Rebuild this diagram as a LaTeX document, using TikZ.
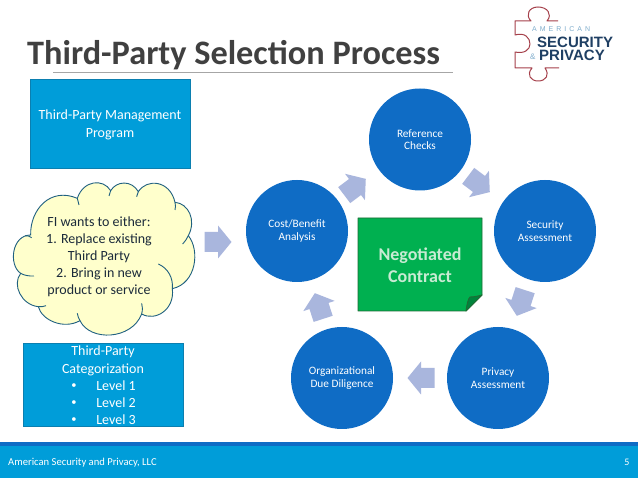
\documentclass[tikz,border=0pt]{standalone}
\usepackage{fontspec}
\setmainfont{Carlito}
\newfontfamily\logofont{Liberation Sans}
\definecolor{circ}{HTML}{0F6CC5}
\definecolor{sky}{HTML}{009DD9}
\definecolor{boxedge}{HTML}{0B7FB0}
\definecolor{arrowc}{HTML}{A9B6DD}
\definecolor{titlec}{HTML}{404040}
\definecolor{cloudfill}{HTML}{FFFFCC}
\definecolor{cloudedge}{HTML}{1F6080}
\definecolor{cloudtext}{HTML}{1B2A3A}
\definecolor{notefill}{HTML}{00B050}
\definecolor{noteedge}{HTML}{1F6B35}
\definecolor{notetext}{HTML}{C8EBD3}
\definecolor{logored}{HTML}{A5404A}
\definecolor{logonavy}{HTML}{1F3F63}
\definecolor{logoblue}{HTML}{7FADCC}
\tikzset{
  stepcircle/.style={circle,fill=circ,minimum size=102pt,inner sep=0pt,text=white,align=center,font=\fontsize{11.3}{12.5}\selectfont},
  bluebox/.style={draw=boxedge,fill=sky,line width=.8pt,inner sep=0pt},
  boxtext/.style={inner sep=0pt,text=white,font=\fontsize{14}{17.5}\selectfont,align=center},
  cloudline/.style={draw=cloudedge,line width=.9pt},
  blockarrow/.pic={\fill[arrowc] (-13.5,-10) -- (0,-10) -- (0,-16.5) -- (13.5,0) -- (0,16.5) -- (0,10) -- (-13.5,10) -- cycle;},
}
\begin{document}
\begin{tikzpicture}[x=1pt,y=-1pt]
\useasboundingbox (0,0) rectangle (638,478);
\fill[white] (0,0) rectangle (638,478);
% title
\node[anchor=base west,inner sep=0pt,text=titlec,font=\fontsize{34.3}{40}\selectfont\bfseries] (title) at (27,65) {Third-Party Selection Process};
\draw[black!35,line width=.6pt] (53,72) coordinate (ruleL) -- (453,72) coordinate (ruleR);
% logo
\draw[logored,line width=1pt,line join=round]
  (558,21) -- (547,21) .. controls (553,14) and (547,7) .. (538,7) .. controls (529,7) and (525,15) .. (531,21)
  -- (515,21) -- (515,35) .. controls (525,32) and (530,38) .. (530,44) .. controls (530,50) and (524,54) .. (515,52)
  -- (515,68) -- (532,68) .. controls (526,75) and (531,81) .. (538,81) .. controls (546,81) and (550,75) .. (545,68) -- (559,68);
\node[anchor=base west,inner sep=0pt,text=logoblue,font=\logofont\fontsize{7}{8}\selectfont] (logoA) at (532,32) {A\kern3pt M\kern3pt E\kern3pt R\kern3pt I\kern3pt C\kern3pt A\kern3pt N};
\node[anchor=base west,inner sep=0pt,text=logonavy,font=\logofont\bfseries\fontsize{15}{16}\selectfont] (logoS) at (537,48) {SECURITY};
\node[anchor=base west,inner sep=0pt,text=logonavy,font=\logofont\bfseries\fontsize{15}{16}\selectfont] (logoP) at (539,61) {PRIVACY};
\node[anchor=base west,inner sep=0pt,text=logoblue,font=\logofont\fontsize{8}{9}\selectfont] (logoAmp) at (530,60) {\&};
% left boxes
\node[bluebox,minimum width=160pt,minimum height=89pt,anchor=north west] (prog) at (30,79) {};
\node[boxtext,anchor=north] (progtext) at (110,110) {Third-Party Management\\Program};
\node[bluebox,minimum width=160pt,minimum height=83pt,anchor=north west] (cat) at (23,343) {};
\node[boxtext] (c1) at (103,352) {Third-Party};
\node[boxtext] (c2) at (103,370) {Categorization};
\foreach \n/\y in {1/386,2/403,3/420}{
  \node[boxtext,font=\fontsize{10.5}{12}\selectfont] (b\n) at (74,\y) {•};
  \node[boxtext] (l\n) at (116,\y) {Level \n};
}
% cloud
\begin{scope}[shift={(0,170)},x=.33333pt,y=-.33333pt]
\path[cloudline,fill=cloudfill]
  (92,195) .. controls (90,120) and (150,50) .. (232,85)
  .. controls (250,30) and (310,25) .. (332,62)
  .. controls (350,32) and (395,30) .. (415,65)
  .. controls (440,25) and (510,30) .. (525,97)
  .. controls (565,100) and (590,150) .. (565,197)
  .. controls (600,240) and (590,340) .. (517,356)
  .. controls (525,420) and (465,455) .. (425,432)
  .. controls (395,510) and (270,515) .. (240,452)
  .. controls (190,480) and (125,450) .. (115,410)
  .. controls (65,405) and (35,345) .. (62,310)
  .. controls (25,285) and (35,195) .. (92,195) -- cycle;
\draw[cloudline] (232,85) -- (237,105);
\draw[cloudline] (332,62) -- (327,78);
\draw[cloudline] (415,65) -- (410,80);
\draw[cloudline] (525,97) .. controls (527,105) and (527,112) .. (525,120);
\draw[cloudline] (565,197) .. controls (560,207) and (555,215) .. (548,222);
\draw[cloudline] (475,282) .. controls (505,295) and (520,325) .. (517,356);
\draw[cloudline] (425,432) .. controls (428,420) and (428,410) .. (425,400);
\draw[cloudline] (240,452) .. controls (236,445) and (233,438) .. (232,430);
\draw[cloudline] (115,410) .. controls (122,411) and (130,410) .. (138,407);
\draw[cloudline] (62,310) .. controls (72,316) and (88,319) .. (102,318);
\draw[cloudline] (75,197) .. controls (82,197) and (88,198) .. (95,203);
\end{scope}
\node[inner sep=0pt,text=cloudtext,align=center,font=\fontsize{14}{17}\selectfont] (cloudlabel) at (99,257) {FI wants to either:\\1. Replace existing\\Third Party\\2. Bring in new\\product or service};
% circles
\node[stepcircle] (ref) at (420,139.5) {Reference\\Checks};
\node[stepcircle] (sec) at (545,231) {Security\\Assessment};
\node[stepcircle] (pri) at (498,378) {Privacy\\Assessment};
\node[stepcircle] (org) at (342,378) {Organizational\\Due Diligence};
\node[stepcircle] (cost) at (297,231) {Cost/Benefit\\Analysis};
% arrows
\pic at (218,242) {blockarrow};
\pic[rotate=37] at (355,187) {blockarrow};
\pic[rotate=-37] at (479,184) {blockarrow};
\pic[rotate=-108] at (521,303) {blockarrow};
\pic[rotate=180] at (421,378) {blockarrow};
\pic[rotate=108] at (319,306) {blockarrow};
% note
\path[draw=noteedge,fill=notefill,line width=.9pt,line join=round]
  (358,218) coordinate (n1) -- (482,218) coordinate (n2) -- (482,295) coordinate (n3) -- (466,311) coordinate (n4) -- (358,311) coordinate (n5) -- cycle;
\path[draw=noteedge,fill=notefill!75!black,line width=.9pt,line join=round]
  (n4) .. controls (467,304) and (468,299) .. (470,297) .. controls (474,297) and (478,296) .. (n3) -- cycle;
\node[inner sep=0pt,text=notetext,align=center,font=\fontsize{18}{21.5}\selectfont\bfseries] (notelabel) at (420,265) {Negotiated\\Contract};
% footer
\fill[sky] (0,446) rectangle (638,478);
\fill[circ] (0,442) rectangle (638,446);
\node[anchor=west,inner sep=0pt,text=white,font=\fontsize{10.6}{13}\selectfont] (foot) at (8,463) {American Security and Privacy, LLC};
\node[anchor=center,inner sep=0pt,text=white,font=\fontsize{10}{12}\selectfont] (num) at (627,462) {5};
\end{tikzpicture}
\end{document}
